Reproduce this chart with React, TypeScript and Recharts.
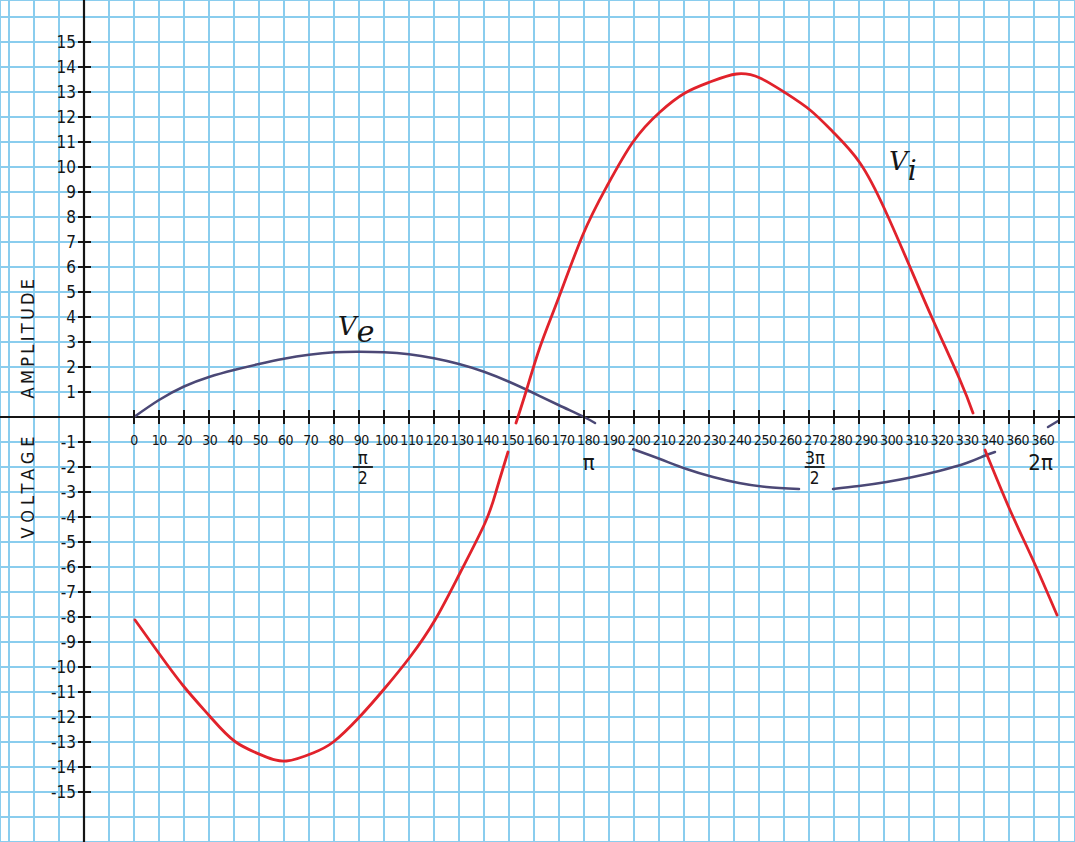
import React from 'react';
import { ComposedChart, Line, XAxis, YAxis, CartesianGrid, ReferenceLine, ReferenceDot } from 'recharts';

// V_e (dark pen) — drawn in separate strokes, gaps where the labels sit
const veSeg1Deg = [0, 10, 20, 30, 40, 50, 60, 70, 80, 90, 100, 110, 120, 130, 140, 150, 160, 170, 180, 184.4];
const veSeg1Val = [0, 0.68, 1.22, 1.6, 1.88, 2.12, 2.33, 2.49, 2.59, 2.61, 2.59, 2.51, 2.35, 2.12, 1.81, 1.41, 0.95, 0.47, 0, -0.24];
const veSeg2Deg = [199.7, 210.4, 221, 231.6, 242, 253, 266];
const veSeg2Val = [-1.29, -1.68, -2.08, -2.4, -2.64, -2.8, -2.88];
const veSeg3Deg = [279.6, 290, 301, 311.6, 322, 333, 340, 344.4];
const veSeg3Val = [-2.88, -2.76, -2.6, -2.4, -2.16, -1.84, -1.56, -1.4];
const veSeg4Deg = [365.6, 369.6];
const veSeg4Val = [-0.4, -0.16];

// V_i (red pen)
const viSeg1Deg = [0.4, 9, 19.7, 30.4, 40.4, 51.7, 61, 71.6, 79.7, 90, 100.4, 110.4, 120.4, 130.4, 140.4, 145, 149.6];
const viSeg1Val = [-8.12, -9.32, -10.75, -11.98, -12.98, -13.55, -13.76, -13.44, -13.0, -12.02, -10.84, -9.6, -8.12, -6.24, -4.24, -2.92, -1.4];
const viSeg2Deg = [152.8, 157, 162.4, 169.6, 179.6, 189, 199.6, 210.4, 220.4, 230.4, 241, 250.4, 260, 270.4, 279.6, 290.4, 300.4, 310.4, 319.6, 330.4, 335.6];
const viSeg2Val = [-0.24, 1.08, 2.8, 4.7, 7.3, 9.2, 11.0, 12.2, 12.96, 13.4, 13.72, 13.56, 13.0, 12.28, 11.4, 10.16, 8.28, 6.0, 3.88, 1.48, 0.16];
const viSeg3Deg = [340.4, 350.4, 359.6, 369.2];
const viSeg3Val = [-1.32, -3.72, -5.72, -7.92];

// axis ticks
const xTickDegrees = [0, 10, 20, 30, 40, 50, 60, 70, 80, 90, 100, 110, 120, 130, 140, 150, 160, 170, 180,
  190, 200, 210, 220, 230, 240, 250, 260, 270, 280, 290, 300, 310, 320, 330, 340, 350, 360, 370];
const xTickLabels = ['0', '10', '20', '30', '40', '50', '60', '70', '80', '90', '100', '110', '120', '130', '140', '150', '160', '170', '180',
  '190', '200', '210', '220', '230', '240', '250', '260', '270', '280', '290', '300', '310', '320', '330', '340', '360', '360', ''];
const yTickValues = [15, 14, 13, 12, 11, 10, 9, 8, 7, 6, 5, 4, 3, 2, 1, -1, -2, -3, -4, -5, -6, -7, -8, -9, -10, -11, -12, -13, -14, -15];
const piDegrees = [90, 180, 270, 360];
const piNumerators = ['π', 'π', '3π', '2π'];
const piDenominators = ['2', '', '2', ''];

const Y_AXIS_AT = -20;

// graph paper lines: every 10 degrees / every 1 volt
const gridDegrees: number[] = [];
for (let d = -50; d <= 370; d += 10) gridDegrees.push(d);
const gridVolts: number[] = [];
for (let v = -17; v <= 16; v += 1) gridVolts.push(v);

const zip = (xs: number[], ys: number[]) => xs.map((x, i) => ({ x, y: ys[i] }));

const hand = "'DejaVu Sans Condensed', 'Liberation Sans Narrow', 'Liberation Sans', sans-serif";
const ink = '#151515';
const veColor = '#4b4876';
const viColor = '#e1222b';

const segments = [
  { key: 've1', data: zip(veSeg1Deg, veSeg1Val), color: veColor, w: 2.5 },
  { key: 've2', data: zip(veSeg2Deg, veSeg2Val), color: veColor, w: 2.5 },
  { key: 've3', data: zip(veSeg3Deg, veSeg3Val), color: veColor, w: 2.5 },
  { key: 've4', data: zip(veSeg4Deg, veSeg4Val), color: veColor, w: 2.5 },
  { key: 'vi1', data: zip(viSeg1Deg, viSeg1Val), color: viColor, w: 2.8 },
  { key: 'vi2', data: zip(viSeg2Deg, viSeg2Val), color: viColor, w: 2.8 },
  { key: 'vi3', data: zip(viSeg3Deg, viSeg3Val), color: viColor, w: 2.8 },
];

export default function App() {
  return (
    <div style={{ position: 'absolute', left: 0, top: 0, background: '#fff' }}>
      <ComposedChart width={1075} height={842} margin={{ top: 0, right: 0, bottom: 0, left: 0 }}>
        <XAxis hide type="number" dataKey="x" domain={[-53.6, 376.4]} ticks={gridDegrees} interval={0} allowDataOverflow />
        <YAxis hide type="number" domain={[-17, 16.68]} ticks={gridVolts} interval={0} allowDataOverflow />
        <CartesianGrid stroke="#8acdee" strokeWidth={2} />
        <ReferenceLine x={Y_AXIS_AT} stroke={ink} strokeWidth={2.2} />
        <ReferenceLine y={0} stroke={ink} strokeWidth={2.2} />

        {yTickValues.map((v) => (
          <ReferenceDot key={'y' + v} x={Y_AXIS_AT} y={v} r={0} ifOverflow="visible"
            shape={(p: any) => (
              <g>
                <line x1={p.cx - 6} x2={p.cx + 7} y1={p.cy} y2={p.cy} stroke={ink} strokeWidth={2} />
                <text x={p.cx - 8} y={p.cy + 6} textAnchor="end" fontSize={17} fontFamily={hand} fill={ink}>{String(v)}</text>
              </g>
            )} />
        ))}

        {xTickDegrees.map((d, i) => (
          <ReferenceDot key={'x' + d} x={d} y={0} r={0} ifOverflow="visible"
            shape={(p: any) => (
              <g>
                <line x1={p.cx} x2={p.cx} y1={p.cy - 7} y2={p.cy + 7} stroke={ink} strokeWidth={2} />
                <text x={p.cx + d * 0.025} y={p.cy + 28} textAnchor="middle" fontSize={14} letterSpacing={-0.4}
                  fontFamily={hand} fill={ink}>{xTickLabels[i]}</text>
              </g>
            )} />
        ))}

        {piDegrees.map((d, i) => (
          <ReferenceDot key={'pi' + d} x={d} y={0} r={0} ifOverflow="visible"
            shape={(p: any) => {
              const cx = p.cx + 3 + d * 0.01;
              return piDenominators[i] ? (
                <g fontFamily={hand} fill={ink} textAnchor="middle">
                  <text x={cx} y={p.cy + 47} fontSize={18}>{piNumerators[i]}</text>
                  <line x1={cx - 10} x2={cx + 10} y1={p.cy + 50} y2={p.cy + 50} stroke={ink} strokeWidth={1.8} />
                  <text x={cx} y={p.cy + 67} fontSize={17}>{piDenominators[i]}</text>
                </g>
              ) : (
                <text x={cx} y={p.cy + 53} fontSize={22} fontFamily={hand} fill={ink} textAnchor="middle">{piNumerators[i]}</text>
              );
            }} />
        ))}

        {segments.map((s) => (
          <Line key={s.key} data={s.data} dataKey="y" type="natural" stroke={s.color} strokeWidth={s.w}
            dot={false} activeDot={false} strokeLinecap="round" isAnimationActive={false} />
        ))}

        <ReferenceDot x={81.6} y={3.3} r={0} ifOverflow="visible"
          shape={(p: any) => (
            <text x={p.cx} y={p.cy} fontFamily="'DejaVu Serif', serif" fontStyle="italic" fill={ink}>
              <tspan fontSize={26}>V</tspan>
              <tspan fontSize={30} dy={7}>e</tspan>
            </text>
          )} />
        <ReferenceDot x={302} y={9.9} r={0} ifOverflow="visible"
          shape={(p: any) => (
            <text x={p.cx} y={p.cy} fontFamily="'DejaVu Serif', serif" fontStyle="italic" fill={ink}>
              <tspan fontSize={26}>V</tspan>
              <tspan fontSize={28} dy={10}>i</tspan>
            </text>
          )} />

        <ReferenceDot x={-42.8} y={3.2} r={0} ifOverflow="visible"
          shape={(p: any) => (
            <text x={p.cx} y={p.cy} transform={`rotate(-90 ${p.cx} ${p.cy})`} textAnchor="middle" dominantBaseline="central"
              fontSize={18} letterSpacing={3.3} fontFamily={hand} fill={ink}>AMPLITUDE</text>
          )} />
        <ReferenceDot x={-42.8} y={-2.72} r={0} ifOverflow="visible"
          shape={(p: any) => (
            <text x={p.cx} y={p.cy} transform={`rotate(-90 ${p.cx} ${p.cy})`} textAnchor="middle" dominantBaseline="central"
              fontSize={18} letterSpacing={5} fontFamily={hand} fill={ink}>VOLTAGE</text>
          )} />
      </ComposedChart>
    </div>
  );
}
